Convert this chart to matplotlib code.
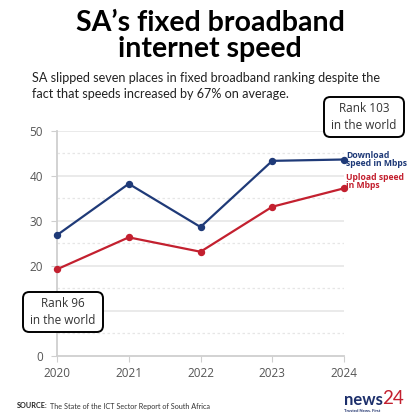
import matplotlib.pyplot as plt
from matplotlib.patches import FancyBboxPatch

years = [2020, 2021, 2022, 2023, 2024]
download = [26.8, 38.2, 28.6, 43.3, 43.6]
upload = [19.2, 26.3, 23.1, 33.1, 37.2]
yticks = [0, 10, 20, 30, 40, 50]
ylabels = ["0", "", "20", "30", "40", "50"]  # 10 sits behind the rank box

navy = "#1f3a78"
red = "#c3202f"

fig = plt.figure(figsize=(4.2, 4.2), dpi=100)
fig.patch.set_facecolor("white")

ax = fig.add_axes([57 / 420, 64.3 / 420, 287 / 420, 225 / 420])
ax.set_xlim(2020, 2024)
ax.set_ylim(0, 50)

# grid: solid at 10s, dashed in between
for v in yticks[1:]:
    ax.axhline(v, color="#e6e6e6", lw=1.2, zorder=0)
for v in [5, 15, 25, 35, 45]:
    ax.axhline(v, color="#e6e6e6", lw=0.9, ls=(0, (2, 2)), zorder=0)

ax.plot(years, download, color=navy, lw=1.6, marker="o", ms=4.3, clip_on=False, zorder=3)
ax.plot(years, upload, color=red, lw=1.6, marker="o", ms=4.3, clip_on=False, zorder=3)

for s in ["top", "right"]:
    ax.spines[s].set_visible(False)
ax.spines["left"].set_color("#cfcfcf")
ax.spines["bottom"].set_color("#cfcfcf")
ax.spines["left"].set_linewidth(1.3)
ax.spines["bottom"].set_linewidth(1.3)

ax.set_xticks(years)
ax.set_yticks(yticks)
ax.set_yticklabels(ylabels)
ax.tick_params(axis="both", colors="#cfcfcf", labelcolor="#555555", labelsize=8.5, length=4)
ax.tick_params(axis="x", pad=4)
ax.tick_params(axis="y", pad=6)
for lab in ax.get_xticklabels() + ax.get_yticklabels():
    lab.set_fontfamily("Open Sans")

ax.text(2024.03, download[-1], "Download\nspeed in Mbps", color=navy, fontsize=6.2,
        fontweight="bold", va="center", ha="left", linespacing=0.85, family="Open Sans")
ax.text(2024.03, upload[-1] + 1.5, "Upload speed\nin Mbps", color=red, fontsize=6.2,
        fontweight="bold", va="center", ha="left", linespacing=0.85, family="Open Sans")

# rank boxes
def rank_box(x0, y0, w, h, txt):
    box = FancyBboxPatch((x0 / 420, 1 - (y0 + h) / 420), w / 420, h / 420,
                         boxstyle="round,pad=0,rounding_size=0.015",
                         transform=fig.transFigure, facecolor="white",
                         edgecolor="black", lw=1.4, zorder=5)
    fig.add_artist(box)
    fig.text((x0 + w / 2) / 420, 1 - (y0 + h / 2) / 420, txt, ha="center", va="center",
             fontsize=8.5, color="#333333", linespacing=1.4, family="Open Sans", zorder=6)

rank_box(324, 97, 80, 40, "Rank 103\nin the world")
rank_box(23, 292, 80, 40, "Rank 96\nin the world")

fig.text(0.5, 1 - 23 / 420, "SA\u2019s fixed broadband", ha="center", va="center",
         fontsize=20.5, fontweight="bold", family="Lato")
fig.text(0.5, 1 - 49 / 420, "internet speed", ha="center", va="center",
         fontsize=20.5, fontweight="bold", family="Lato")
fig.text(32 / 420, 1 - 78 / 420, "SA slipped seven places in fixed broadband ranking despite the",
         ha="left", va="center", fontsize=9.1, family="Lato", color="#222222")
fig.text(32 / 420, 1 - 94 / 420, "fact that speeds increased by 67% on average.",
         ha="left", va="center", fontsize=9.1, family="Lato", color="#222222")

fig.text(17 / 420, 1 - 406 / 420, "SOURCE:", ha="left", va="center", fontsize=5.2,
         fontweight="bold", family="Lato", color="#222222")
fig.text(50 / 420, 1 - 406 / 420, "The State of the ICT Sector Report of South Africa",
         ha="left", va="center", fontsize=5.2, family="Lato", color="#333333")

fig.text(383 / 420, 1 - 400 / 420, "news", ha="right", va="center", fontsize=12,
         fontweight="bold", family="Lato", color="#1c2f6b")
fig.text(382 / 420, 1 - 399 / 420, "24", ha="left", va="center", fontsize=13.5,
         family="Lato", color="#c3202f")
fig.text(344 / 420, 1 - 411 / 420, "Trusted News. First", ha="left", va="center",
         fontsize=3, fontweight="bold", family="Lato", color="#1c2f6b")

fig.savefig("out.png", dpi=100, facecolor="white")
